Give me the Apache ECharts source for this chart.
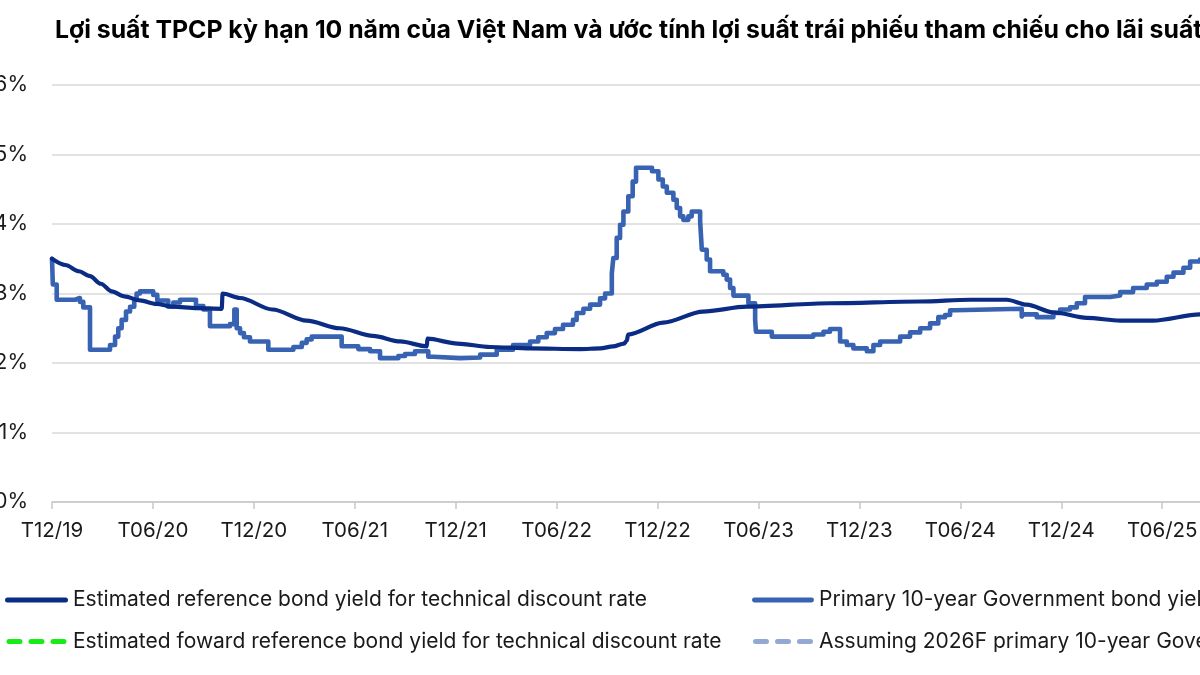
<!DOCTYPE html>
<html>
<head>
<meta charset="utf-8">
<script src="https://cdn.jsdelivr.net/npm/echarts@6/dist/echarts.min.js"></script>
<style>html,body{margin:0;padding:0;background:#fff}#c{width:1200px;height:675px}</style>
</head>
<body>
<div id="c"></div>
<script>
// ---- Data (x = months since Dec 2019) ----
const titleText = "Lợi suất TPCP kỳ hạn 10 năm của Việt Nam và ước tính lợi suất trái phiếu tham chiếu cho lãi suất chiết khấu kỹ thuật";
const tickLabels = ["T12/19","T06/20","T12/20","T06/21","T12/21","T06/22","T12/22","T06/23","T12/23","T06/24","T12/24","T06/25","T12/25","T06/26","T12/26"];
const seriesNames = [
  "Estimated reference bond yield for technical discount rate",
  "Primary 10-year Government bond yield",
  "Estimated foward reference bond yield for technical discount rate",
  "Assuming 2026F primary 10-year Government bond yield"
];

const refMonths = [0, 0.8, 1.6, 2.26, 2.9, 3.55, 4.3, 5.23, 6.2, 7.19, 8.6, 10.09, 10.14, 11.18, 13.1, 15.14, 17.1, 19.08, 20.7, 22.28, 22.32, 24.1, 26.04, 28.42, 31.39, 32.6, 33.35, 34.0, 34.17, 34.25, 36.33, 38.7, 41.3, 46.25, 51.6, 54.58, 56.76, 57.95, 59.51, 61.52, 63.5, 65.46, 68.25, 69];
const refYield  = [3.50, 3.41, 3.32, 3.25, 3.14, 3.03, 2.96, 2.90, 2.85, 2.81, 2.79, 2.78, 3.00, 2.935, 2.77, 2.61, 2.50, 2.39, 2.31, 2.24, 2.35, 2.28, 2.23, 2.21, 2.20, 2.21, 2.24, 2.28, 2.32, 2.41, 2.58, 2.74, 2.81, 2.86, 2.885, 2.91, 2.91, 2.84, 2.73, 2.65, 2.61, 2.61, 2.70, 2.72];

const primaryMonths = [0, 0.05, 0.28, 1.37, 1.66, 1.86, 2.26, 3.45, 3.75, 3.94, 4.14, 4.40, 4.64, 4.89, 5.03, 5.23, 6.02, 6.26, 6.91, 7.21, 7.61, 8.56, 9.0, 9.39, 10.58, 10.84, 10.98, 11.18, 11.41, 11.77, 12.86, 14.35, 14.85, 15.14, 15.44, 17.22, 18.21, 18.91, 19.5, 20.59, 20.99, 21.58, 22.37, 22.67, 24.26, 25.45, 26.44, 27.41, 28.42, 28.91, 29.41, 29.9, 30.38, 30.97, 31.19, 31.59, 31.99, 32.58, 32.88, 33.28, 33.37, 33.57, 33.77, 33.97, 34.26, 34.52, 34.72, 35.67, 36.05, 36.31, 36.55, 36.94, 37.14, 37.34, 37.53, 37.83, 38.03, 38.53, 38.63, 38.92, 39.12, 39.91, 40.11, 40.31, 40.51, 41.4, 41.8, 41.85, 42.79, 45.26, 45.86, 46.25, 46.85, 47.25, 47.64, 48.44, 48.83, 49.23, 50.42, 51.01, 51.61, 52.2, 52.69, 53.09, 53.39, 53.69, 57.65, 57.75, 58.54, 59.53, 59.93, 60.52, 60.92, 61.41, 62.9, 63.5, 64.27, 65.08, 65.68, 66.27, 66.67, 67.26, 67.66, 68.25, 69];
const primaryYield  = [3.50, 3.13, 2.91, 2.935, 2.88, 2.80, 2.19, 2.26, 2.38, 2.50, 2.62, 2.74, 2.81, 2.91, 3.00, 3.03, 2.98, 2.90, 2.81, 2.87, 2.91, 2.82, 2.77, 2.53, 2.56, 2.77, 2.50, 2.43, 2.37, 2.31, 2.19, 2.23, 2.29, 2.34, 2.38, 2.24, 2.20, 2.17, 2.07, 2.10, 2.13, 2.17, 2.09, 2.07, 2.08, 2.12, 2.19, 2.26, 2.31, 2.37, 2.43, 2.49, 2.55, 2.62, 2.72, 2.78, 2.84, 2.93, 3.00, 3.29, 3.51, 3.80, 3.99, 4.18, 4.40, 4.61, 4.81, 4.76, 4.64, 4.54, 4.45, 4.35, 4.23, 4.11, 4.06, 4.11, 4.18, 4.04, 3.63, 3.49, 3.32, 3.27, 3.20, 3.08, 2.97, 2.86, 2.62, 2.45, 2.38, 2.41, 2.45, 2.49, 2.31, 2.26, 2.21, 2.17, 2.26, 2.31, 2.38, 2.44, 2.50, 2.57, 2.66, 2.69, 2.76, 2.78, 2.67, 2.70, 2.66, 2.72, 2.77, 2.80, 2.86, 2.95, 2.97, 3.02, 3.08, 3.13, 3.17, 3.24, 3.30, 3.37, 3.46, 3.49, 3.52];

// forward / assumed series lie outside the visible area of the reference
const fwdRefMonths = [];
const fwdRefYield = [];
const assumedMonths = [];
const assumedYield = [];

const zip = (a, b) => a.map((v, i) => [v, b[i]]);

const FONT = 'Inter';
const SOLID_ICON = 'path://M2.5,0H60.5A2.5,2.5 0 0 1 60.5,5H2.5A2.5,2.5 0 0 1 2.5,0Z';
const DASH_ICON = 'path://M2.5,0H13.5A2.5,2.5 0 0 1 13.5,5H2.5A2.5,2.5 0 0 1 2.5,0Z M24.5,0H35.5A2.5,2.5 0 0 1 35.5,5H24.5A2.5,2.5 0 0 1 24.5,0Z M46.5,0H57.5A2.5,2.5 0 0 1 57.5,5H46.5A2.5,2.5 0 0 1 46.5,0Z';

const legendText = {fontFamily: FONT, fontSize: 21, color: '#1a1a1a', lineHeight: 20};
const chart = echarts.init(document.getElementById('c'), null, {renderer: 'canvas'});
chart.setOption({
  backgroundColor: '#ffffff',
  animation: false,
  title: {
    text: titleText, left: 50, top: 13,
    textStyle: {fontFamily: FONT, fontSize: 24.8, fontWeight: 'bold', color: '#000000'}
  },
  legend: [
    {
      left: 0, top: 584.5, orient: 'vertical', itemWidth: 63, itemHeight: 5, itemGap: 20.5,
      data: [{name: seriesNames[0], icon: SOLID_ICON}, {name: seriesNames[2], icon: DASH_ICON}],
      textStyle: legendText
    },
    {
      left: 747, top: 584.5, orient: 'vertical', itemWidth: 62, itemHeight: 5, itemGap: 20.5,
      data: [{name: seriesNames[1], icon: SOLID_ICON}, {name: seriesNames[3], icon: DASH_ICON}],
      textStyle: legendText
    }
  ],
  grid: {left: 52, top: 85, width: 1413, height: 417, containLabel: false, outerBoundsMode: 'none'},
  xAxis: {
    type: 'value', min: 0, max: 84, interval: 6,
    axisLine: {show: true, lineStyle: {color: '#c8c8c8', width: 1.5}},
    axisTick: {show: true, length: 7, lineStyle: {color: '#c8c8c8', width: 1.5}},
    splitLine: {show: false},
    axisLabel: {
      margin: 18, fontFamily: FONT, fontSize: 20.5, color: '#1a1a1a',
      formatter: v => tickLabels[Math.round(v / 6)] || ''
    }
  },
  yAxis: {
    type: 'value', min: 0, max: 6, interval: 1,
    axisLine: {show: false}, axisTick: {show: false},
    splitLine: {lineStyle: {color: '#d9d9d9', width: 1.5}},
    axisLabel: {margin: 24, fontFamily: FONT, fontSize: 21, color: '#1a1a1a', formatter: '{value}%'}
  },
  series: [
    {
      name: seriesNames[0], type: 'line', data: zip(refMonths, refYield),
      showSymbol: false, symbol: 'none', smooth: 0.3, smoothMonotone: 'x',
      lineStyle: {color: '#0b2c84', width: 4.2, cap: 'round'}, itemStyle: {color: '#0b2c84'}, z: 3
    },
    {
      name: seriesNames[1], type: 'line', data: zip(primaryMonths, primaryYield),
      showSymbol: false, symbol: 'none', step: 'end',
      lineStyle: {color: '#3862b2', width: 4.6, cap: 'round', join: 'round'}, itemStyle: {color: '#3862b2'}, z: 2
    },
    {
      name: seriesNames[2], type: 'line', data: zip(fwdRefMonths, fwdRefYield),
      showSymbol: false, symbol: 'none',
      lineStyle: {color: '#17ec17', width: 5, type: [9, 12], cap: 'round'}, itemStyle: {color: '#17ec17'}
    },
    {
      name: seriesNames[3], type: 'line', data: zip(assumedMonths, assumedYield),
      showSymbol: false, symbol: 'none',
      lineStyle: {color: '#93a9d3', width: 5, type: [9, 12], cap: 'round'}, itemStyle: {color: '#93a9d3'}
    }
  ]
});
</script>
</body>
</html>
